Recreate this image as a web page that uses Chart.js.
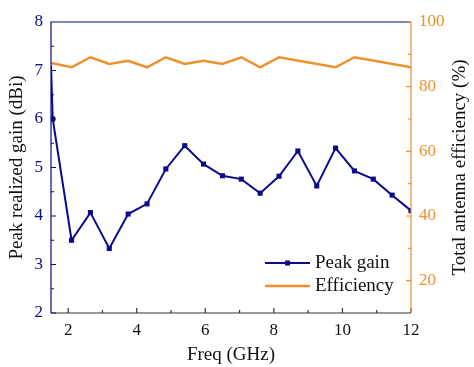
<!DOCTYPE html>
<html>
<head>
<meta charset="utf-8">
<script src="https://cdn.jsdelivr.net/npm/chart.js@4"></script>
<style>
  html, body { margin: 0; padding: 0; background: #fff; }
  #wrap { width: 474px; height: 367px; }
</style>
</head>
<body>
<div id="wrap"><canvas id="chart" width="474" height="367"></canvas></div>
<script>
// values
const gainFreq = [1.5, 1.55, 2.1, 2.65, 3.2, 3.75, 4.3, 4.85, 5.4, 5.95, 6.5, 7.05, 7.6, 8.15, 8.7, 9.25, 9.8, 10.35, 10.9, 11.45, 12.0];
const gainValues = [7.1, 6.0, 3.5, 4.07, 3.33, 4.04, 4.25, 4.97, 5.45, 5.07, 4.83, 4.76, 4.47, 4.82, 5.34, 4.62, 5.40, 4.93, 4.76, 4.43, 4.11];
const effFreq = [1.5, 2.1, 2.65, 3.2, 3.75, 4.3, 4.85, 5.4, 5.95, 6.5, 7.05, 7.6, 8.15, 9.8, 10.35, 12.0];
const effValues = [87.3, 86.0, 89.1, 87.0, 88.0, 86.0, 89.1, 87.0, 88.0, 87.0, 89.1, 86.0, 89.1, 86.0, 89.1, 86.0];

const freqTicks = [2, 4, 6, 8, 10, 12];
const gainTicks = [2, 3, 4, 5, 6, 7, 8];
const effTicks = [20, 40, 60, 80, 100];

const BLUE = '#0b0b8a';
const ORANGE = '#f0902a';
const FONT = 'Liberation Serif, Times New Roman, serif';

function toPoints(xs, ys) {
    return xs.map((x, i) => ({ x: x, y: ys[i] }));
}

function fixTicks(values) {
    return function(scale) {
        scale.ticks = values.map(v => ({ value: v }));
    };
}

// inward ticks, axis lines, right title and legend
const decorations = {
    id: 'decorations',
    afterDraw(chart) {
        const ctx = chart.ctx;
        const a = chart.chartArea;
        const x = chart.scales.x, y = chart.scales.y, y1 = chart.scales.y1;
        ctx.save();
        ctx.lineWidth = 1.2;

        // bottom axis
        ctx.strokeStyle = '#333';
        ctx.beginPath();
        ctx.moveTo(a.left, a.bottom); ctx.lineTo(a.right, a.bottom);
        for (let v = 2; v <= 12; v++) {
            const px = x.getPixelForValue(v);
            const len = v % 2 === 0 ? 5 : 3;
            ctx.moveTo(px, a.bottom); ctx.lineTo(px, a.bottom - len);
        }
        ctx.stroke();

        // left axis + top border
        ctx.strokeStyle = BLUE;
        ctx.beginPath();
        ctx.moveTo(a.left, a.bottom); ctx.lineTo(a.left, a.top); ctx.lineTo(a.right, a.top);
        for (let v = 2; v <= 8; v += 0.5) {
            const py = y.getPixelForValue(v);
            const len = Number.isInteger(v) ? 5 : 3;
            ctx.moveTo(a.left, py); ctx.lineTo(a.left + len, py);
        }
        ctx.stroke();

        // right axis
        ctx.strokeStyle = ORANGE;
        ctx.beginPath();
        ctx.moveTo(a.right, a.top); ctx.lineTo(a.right, a.bottom);
        for (let v = 20; v <= 100; v += 10) {
            const py = y1.getPixelForValue(v);
            const len = v % 20 === 0 ? 5 : 3;
            ctx.moveTo(a.right, py); ctx.lineTo(a.right - len, py);
        }
        ctx.stroke();

        // right axis title, reading upwards
        ctx.fillStyle = '#111';
        ctx.font = '19px ' + FONT;
        ctx.textAlign = 'center';
        ctx.textBaseline = 'middle';
        ctx.translate(460, (a.top + a.bottom) / 2);
        ctx.rotate(-Math.PI / 2);
        ctx.fillText('Total antenna efficiency (%)', 0, 0);
        ctx.setTransform(1, 0, 0, 1, 0, 0);

        // legend
        const lx0 = 265, lx1 = 310, tx = 315;
        const rows = [
            { label: 'Peak gain', color: BLUE, marker: true, yy: 263 },
            { label: 'Efficiency', color: ORANGE, marker: false, yy: 286 }
        ];
        ctx.textAlign = 'left';
        rows.forEach(r => {
            ctx.strokeStyle = r.color;
            ctx.lineWidth = r.marker ? 2 : 2.5;
            ctx.beginPath();
            ctx.moveTo(lx0, r.yy); ctx.lineTo(lx1, r.yy);
            ctx.stroke();
            if (r.marker) {
                ctx.fillStyle = r.color;
                ctx.fillRect((lx0 + lx1) / 2 - 2.5, r.yy - 2.5, 5, 5);
            }
            ctx.fillStyle = '#111';
            ctx.fillText(r.label, tx, r.yy);
        });
        ctx.restore();
    }
};

const ctx = document.getElementById('chart').getContext('2d');
new Chart(ctx, {
    type: 'line',
    data: {
        datasets: [
            {
                label: 'Efficiency',
                data: toPoints(effFreq, effValues),
                yAxisID: 'y1',
                borderColor: ORANGE,
                borderWidth: 2.5,
                pointRadius: 0,
                tension: 0,
                fill: false
            },
            {
                label: 'Peak gain',
                data: toPoints(gainFreq, gainValues),
                yAxisID: 'y',
                borderColor: BLUE,
                backgroundColor: BLUE,
                borderWidth: 2,
                pointStyle: 'rect',
                pointRadius: c => c.dataIndex === 0 ? 0 : 3.6,
                pointBorderWidth: 0,
                tension: 0,
                fill: false
            }
        ]
    },
    options: {
        responsive: false,
        animation: false,
        layout: { padding: { top: 22, left: 0, right: 0, bottom: 0 } },
        plugins: {
            legend: { display: false },
            tooltip: { enabled: false }
        },
        scales: {
            x: {
                type: 'linear',
                min: 1.5,
                max: 12,
                afterBuildTicks: fixTicks(freqTicks),
                afterFit: s => { s.height = 54; },
                grid: { display: false, drawTicks: false },
                border: { display: false },
                ticks: { color: '#111', font: { family: FONT, size: 17 }, padding: 7, maxRotation: 0 },
                title: { display: true, text: 'Freq (GHz)', color: '#111', font: { family: FONT, size: 19 }, padding: { top: 0, bottom: 1 } }
            },
            y: {
                position: 'left',
                min: 2,
                max: 8,
                afterBuildTicks: fixTicks(gainTicks),
                afterFit: s => { s.width = 51; },
                grid: { display: false, drawTicks: false },
                border: { display: false },
                ticks: { color: BLUE, font: { family: FONT, size: 17 }, padding: 8 },
                title: { display: true, text: 'Peak realized gain (dBi)', color: '#111', font: { family: FONT, size: 19 }, padding: { top: 6, bottom: 0 } }
            },
            y1: {
                position: 'right',
                min: 10,
                max: 100,
                afterBuildTicks: fixTicks(effTicks),
                afterFit: s => { s.width = 63; },
                grid: { display: false, drawTicks: false },
                border: { display: false },
                ticks: { color: ORANGE, font: { family: FONT, size: 17 }, padding: 8 }
            }
        }
    },
    plugins: [decorations]
});
</script>
</body>
</html>
